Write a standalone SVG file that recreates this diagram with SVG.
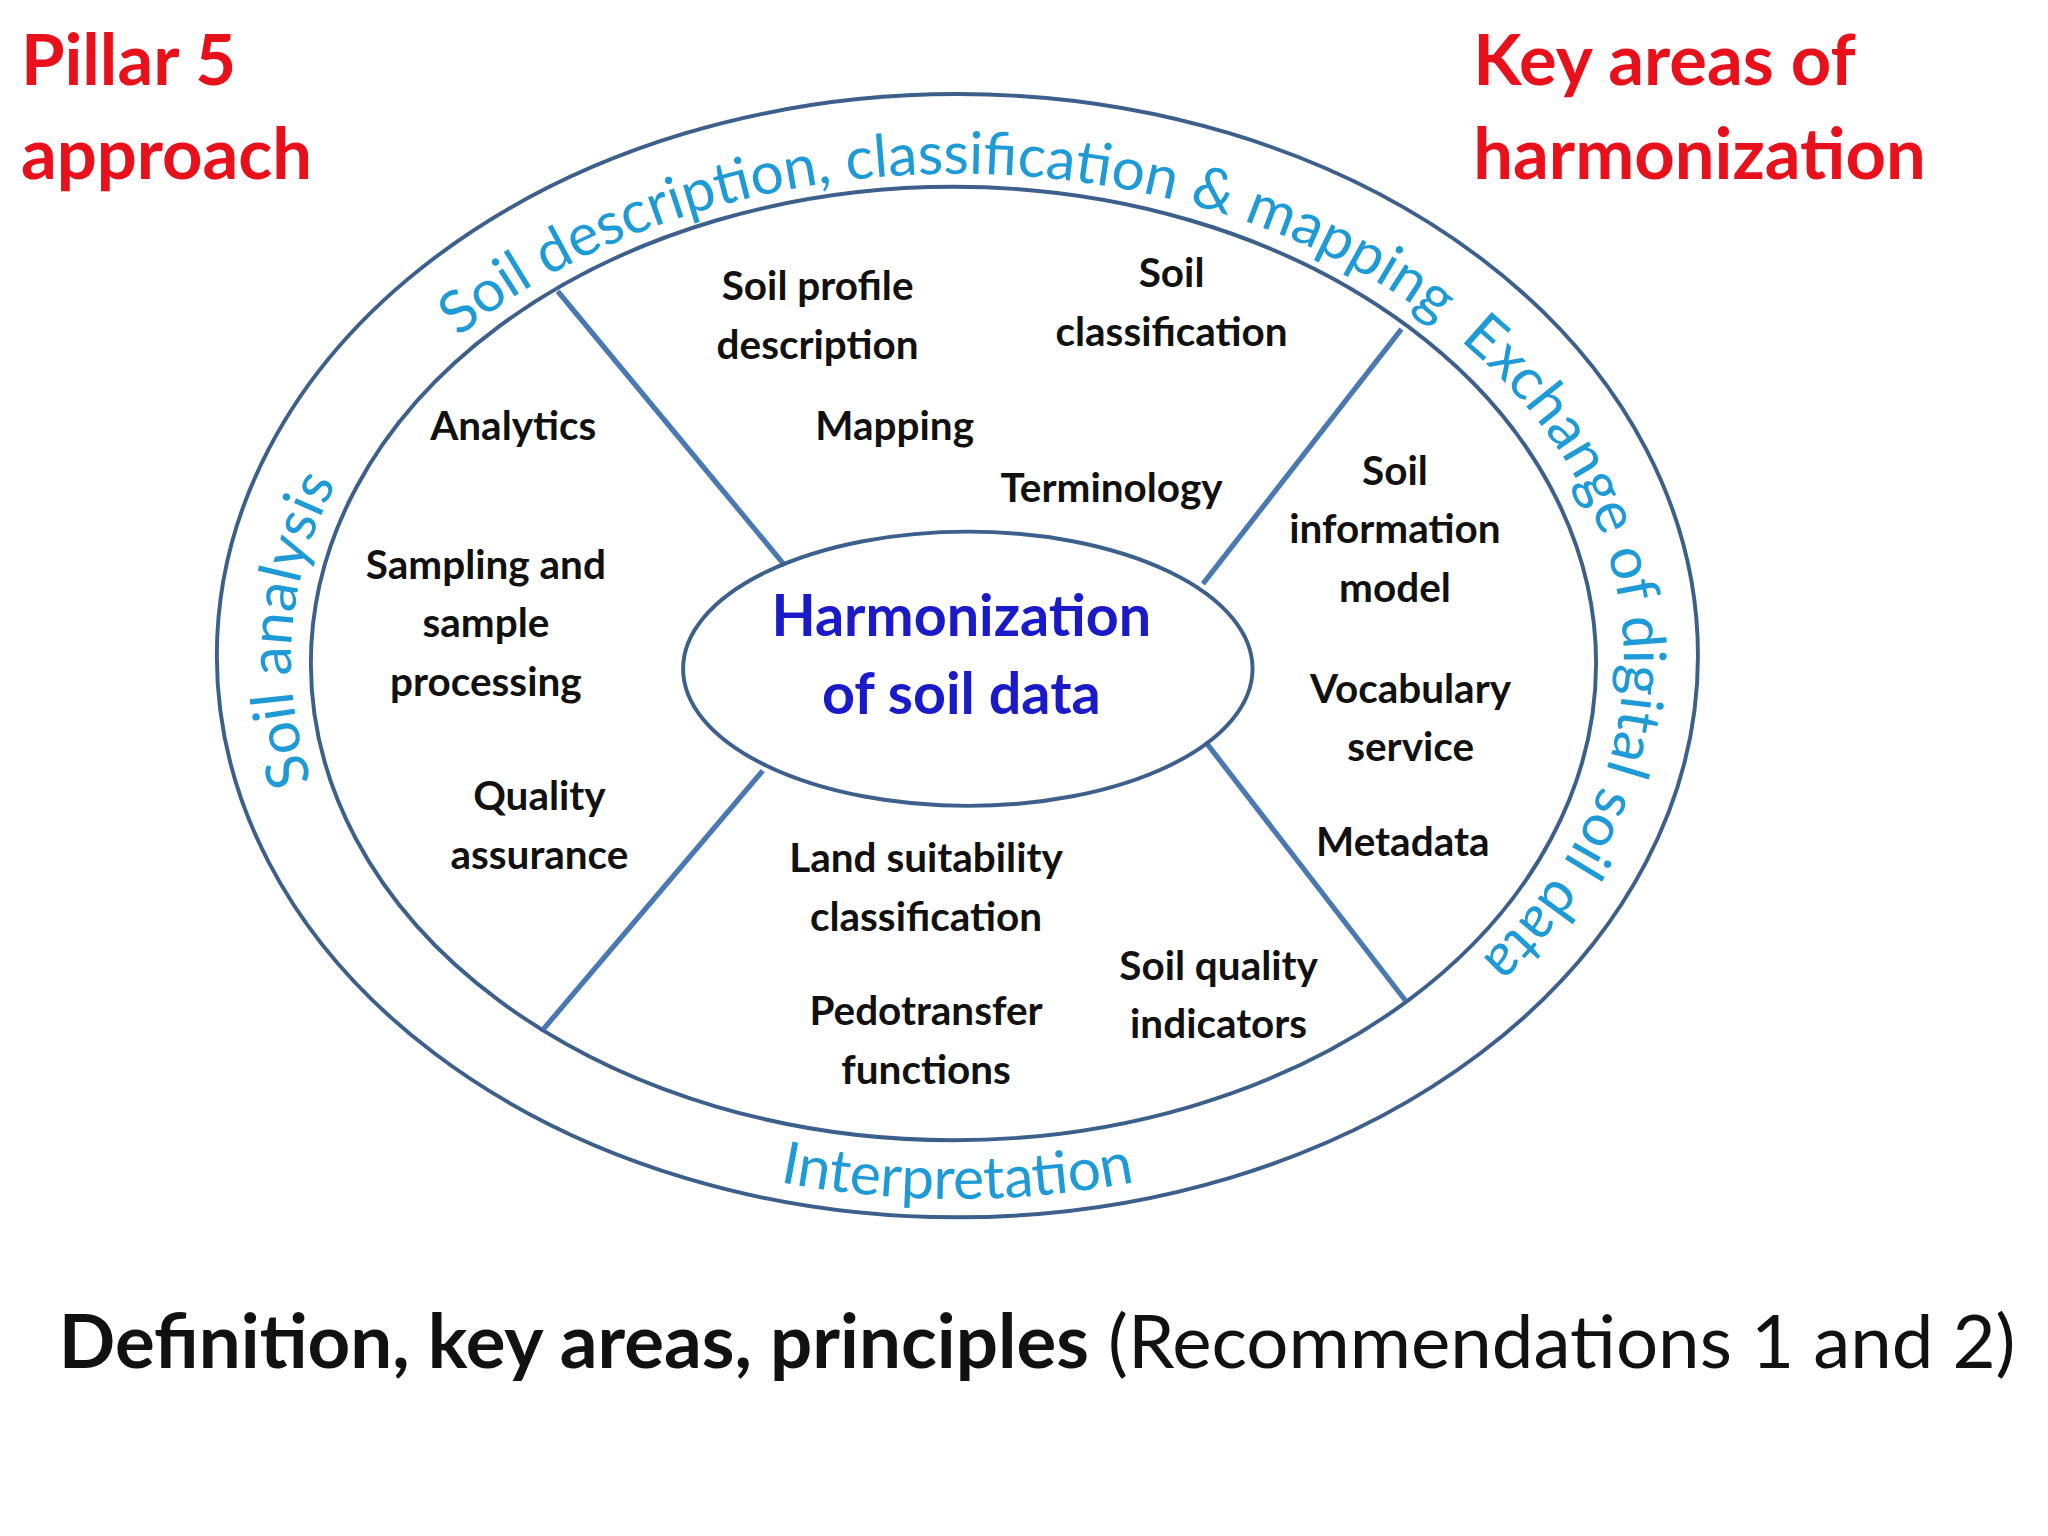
<svg xmlns="http://www.w3.org/2000/svg" width="2048" height="1536" viewBox="0 0 2048 1536">
<defs>
<style>
.e{fill:none;stroke:#3d5f8c;stroke-width:3}
.l{stroke:#4a78b0;stroke-width:4}
.t{font-family:Lato,"Open Sans",sans-serif;font-weight:bold;font-size:31px;fill:#111;text-anchor:middle}
.r{font-family:Lato,"Open Sans",sans-serif;font-size:45px;fill:#1e9ad6}
.red{font-family:Lato,"Open Sans",sans-serif;font-weight:bold;font-size:54px;fill:#e8101a}
.c{font-family:Lato,"Open Sans",sans-serif;font-weight:bold;font-size:44px;fill:#1a1ac8;text-anchor:middle}
</style>
<path id="ring" d="M733,877 A510,372 0 1 1 733,133 A510,372 0 1 1 733,877"/>
<path id="bot" d="M188,505 A545,413 0 0 0 1278,505"/>
</defs>
<rect width="2048" height="1536" fill="#fff"/>
<g transform="scale(1.30612)">
<g id="rings">
<ellipse class="e" cx="733" cy="502" rx="567" ry="430"/>
<ellipse class="e" cx="730" cy="508" rx="492" ry="365"/>
</g>
<g id="connectors">
<line class="l" x1="427" y1="223" x2="601" y2="433"/>
<line class="l" x1="1073" y1="252" x2="921" y2="447"/>
<line class="l" x1="584" y1="590" x2="416" y2="788"/>
<line class="l" x1="923" y1="568" x2="1076" y2="766"/>
</g>
<g id="center">
<ellipse class="e" cx="741" cy="512" rx="218" ry="105"/>
<text class="c" x="736" y="487">Harmonization</text>
<text class="c" x="736" y="547">of soil data</text>
</g>
<g id="ring-labels">
<text class="r" text-anchor="middle"><textPath href="#ring" startOffset="1385">Soil description, classification &amp; mapping</textPath></text>
<text class="r" text-anchor="middle"><textPath href="#ring" startOffset="720">Soil analysis</textPath></text>
<text class="r" text-anchor="middle"><textPath href="#ring" startOffset="2080">Exchange of digital soil data</textPath></text>
<text class="r" text-anchor="middle"><textPath href="#bot" startOffset="50%">Interpretation</textPath></text>
</g>
<g id="areas">
<text class="t" x="626" y="230">Soil profile</text><text class="t" x="626" y="275">description</text>
<text class="t" x="897" y="220">Soil</text><text class="t" x="897" y="265">classification</text>
<text class="t" x="393" y="337">Analytics</text>
<text class="t" x="685" y="337">Mapping</text>
<text class="t" x="851" y="384">Terminology</text>
<text class="t" x="1068" y="371">Soil</text><text class="t" x="1068" y="416">information</text><text class="t" x="1068" y="461">model</text>
<text class="t" x="372" y="443">Sampling and</text><text class="t" x="372" y="488">sample</text><text class="t" x="372" y="533">processing</text>
<text class="t" x="1080" y="538">Vocabulary</text><text class="t" x="1080" y="583">service</text>
<text class="t" x="413" y="620">Quality</text><text class="t" x="413" y="665">assurance</text>
<text class="t" x="1074" y="655">Metadata</text>
<text class="t" x="709" y="668">Land suitability</text><text class="t" x="709" y="713">classification</text>
<text class="t" x="933" y="750">Soil quality</text><text class="t" x="933" y="795">indicators</text>
<text class="t" x="709" y="785">Pedotransfer</text><text class="t" x="709" y="830">functions</text>
</g>
<g id="titles">
<text class="red" x="16" y="65">Pillar 5</text>
<text class="red" x="16" y="137">approach</text>
<text class="red" x="1128" y="65">Key areas of</text>
<text class="red" x="1128" y="137">harmonization</text>
<text x="45" y="1047" font-family="Lato,'Open Sans',sans-serif" font-size="57" fill="#111"><tspan font-weight="bold">Definition, key areas, principles</tspan> (Recommendations 1 and 2)</text>
</g>
</g>
</svg>
